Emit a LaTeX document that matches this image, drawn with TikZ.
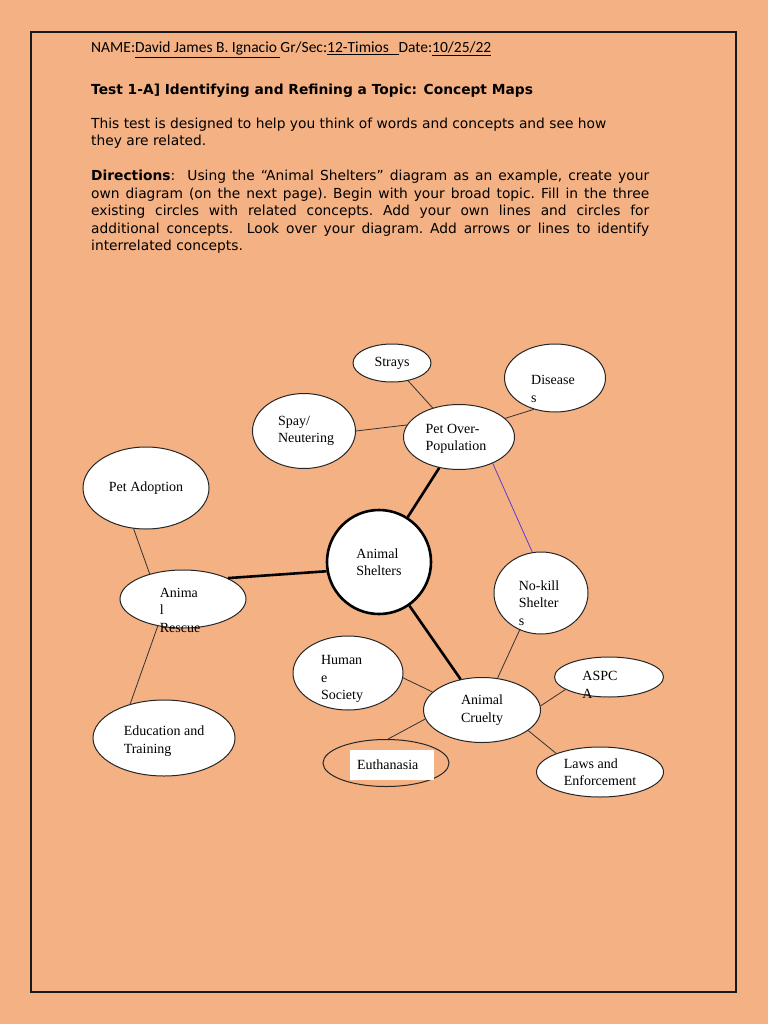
\documentclass[tikz,border=0pt]{standalone}
\usepackage{fontspec}
\setmainfont{Liberation Serif}
\newfontfamily\hdrfont{Carlito}
\newfontfamily\verdfont{DejaVu Sans}
\usepackage{tikz}
\usetikzlibrary{shapes.geometric}

\definecolor{pagebg}{HTML}{F4B183}
\definecolor{linkblue}{RGB}{90,60,210}

\tikzset{
  bubble/.style={ellipse, draw=black!85, line width=1pt, fill=white, inner sep=0pt},
  lbl/.style={font=\fontsize{14}{17.5}\selectfont, align=left, inner sep=0pt},
  thin link/.style={draw=black!80, line width=0.8pt},
  thick link/.style={draw=black, line width=2.6pt},
  headtext/.style={anchor=base west, inner sep=0pt},
  bodytext/.style={headtext, font=\verdfont\frenchspacing\fontsize{13.8}{17.5}\selectfont, align=left}
}

\begin{document}
\begin{tikzpicture}[x=1pt,y=-1pt]

  \useasboundingbox (0,0) rectangle (768,1024);
  \fill[pagebg] (0,0) rectangle (768,1024);
  \draw[line width=2pt, black!90] (31,32) rectangle (736,992);

  % header (base anchor = last line)
  \node[headtext, font=\hdrfont\fontsize{15.5}{18}\selectfont] (name) at (91,53)
    {NAME:\underline{David James B. Ignacio\ }Gr/Sec:\underline{12-Timios\ \ \,}Date:\underline{10/25/22}};
  \node[headtext, font=\verdfont\bfseries\fontsize{13.8}{16}\selectfont] (title) at (91,95)
    {Test 1-A] Identifying and Refining a Topic: Concept Maps};
  \node[bodytext] (intro) at (91,146)
    {This test is designed to help you think of words and concepts and see how\\they are related.};
  \node[bodytext] (directions) at (91,251)
    {\makebox[558pt][s]{\textbf{Directions}:\ \ Using the “Animal Shelters” diagram as an example, create your}\\
     \makebox[558pt][s]{own diagram (on the next page). Begin with your broad topic. Fill in the three}\\
     \makebox[558pt][s]{existing circles with related concepts. Add your own lines and circles for}\\
     \makebox[558pt][s]{additional concepts.\ \ Look over your diagram. Add arrows or lines to identify}\\
     interrelated concepts.};

  % concept bubbles
  \node[bubble, minimum width=78pt, minimum height=38pt, label={[lbl]center:Strays}] (strays) at (392,363) {};
  \node[bubble, minimum width=101pt, minimum height=68pt, label={[lbl,xshift=-2pt,yshift=-11pt]center:{Disease\\s}}] (diseases) at (555,378) {};
  \node[bubble, minimum width=103pt, minimum height=75pt, label={[lbl,xshift=2pt]center:{Spay/\\Neutering}}] (spay) at (304,431) {};
  \node[bubble, minimum width=111pt, minimum height=65pt, label={[lbl,xshift=-3pt,yshift=-2pt]center:{Pet Over-\\Population}}] (overpop) at (459,437) {};
  \node[bubble, minimum width=126pt, minimum height=82pt, label={[lbl]center:Pet Adoption}] (adoption) at (146,488) {};
  \node[circle, draw=black, line width=2.6pt, fill=white, minimum size=104pt, inner sep=0pt,
        label={[lbl]center:{Animal\\Shelters}}] (shelters) at (379,562) {};
  \node[bubble, minimum width=126pt, minimum height=58pt, label={[lbl,xshift=-3pt,yshift=-11pt]center:{Anima\\l\\Rescue}}] (rescue) at (183,599) {};
  \node[bubble, minimum width=94pt, minimum height=82pt, label={[lbl,xshift=-2pt,yshift=-10pt]center:{No-kill\\Shelter\\s}}] (nokill) at (541,593) {};
  \node[bubble, minimum width=110pt, minimum height=74pt, label={[lbl,xshift=-6pt,yshift=-6pt]center:{Human\\e\\Society}}] (humane) at (348,673) {};
  \node[bubble, minimum width=109pt, minimum height=40pt, label={[lbl,xshift=-9pt,yshift=-8pt]center:{ASPC\\A}}] (aspca) at (609,677) {};
  \node[bubble, minimum width=117pt, minimum height=65pt, label={[lbl]center:{Animal\\Cruelty}}] (cruelty) at (482,710) {};
  \node[bubble, minimum width=142pt, minimum height=76pt, label={[lbl,yshift=-3pt]center:{Education and\\Training}}] (education) at (164,738) {};
  \node[bubble, fill=pagebg, minimum width=126pt, minimum height=47pt,
        label={[lbl,fill=white,minimum width=84pt,minimum height=30pt,text width=70pt,xshift=6pt,yshift=-2pt]center:Euthanasia}] (euthanasia) at (386,763) {};
  \node[bubble, minimum width=127pt, minimum height=50pt, label={[lbl]center:{Laws and\\Enforcement}}] (laws) at (600,772) {};

  % main links
  \draw[thick link] (overpop) -- (shelters);
  \draw[thick link] (shelters.190) -- (rescue.25);
  \draw[thick link] (shelters) -- (cruelty);

  % side links
  \draw[thin link] (strays) -- (overpop);
  \draw[thin link] (spay.0) -- (overpop.167);
  \draw[thin link] (diseases.-124) -- (overpop.22);
  \draw[linkblue, line width=0.8pt] (overpop.-38) -- (nokill.102);
  \draw[thin link] (adoption.-107) -- (rescue.143);
  \draw[thin link] (rescue.-133) -- (education.135);
  \draw[thin link] (nokill.-120) -- (cruelty.64);
  \draw[thin link] (humane.-5) -- (cruelty.160);
  \draw[thin link] (euthanasia.85) -- (cruelty.-171);
  \draw[thin link] (aspca.-164) -- (cruelty.4);
  \draw[thin link] (laws.157) -- (cruelty.-24);

\end{tikzpicture}
\end{document}
